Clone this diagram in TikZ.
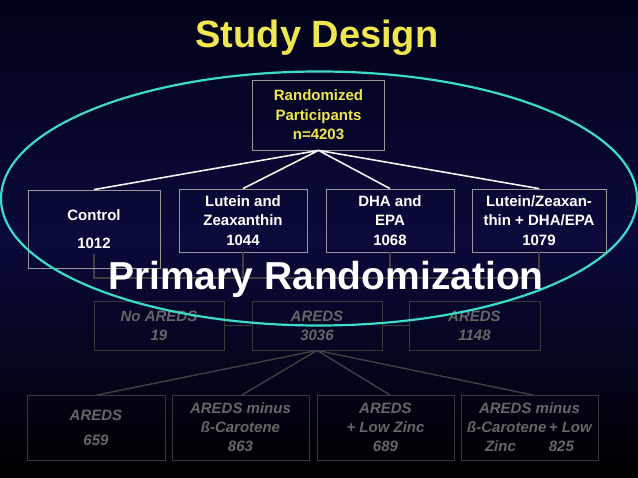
\documentclass[tikz,border=0pt]{standalone}
\usepackage{fontspec}
\setmainfont{Liberation Sans}
\begin{document}
\begin{tikzpicture}[x=1pt,y=-1pt,
  wb/.style={draw=gray!80,line width=0.8pt,text=white,font=\bfseries\fontsize{15}{19.5}\selectfont,align=center,inner sep=0pt},
  gb/.style={draw=gray!45!black,line width=0.8pt,text=gray!80!black,font=\bfseries\itshape\fontsize{15}{19}\selectfont,align=center,inner sep=0pt},
  wl/.style={white!90!gray,line width=1.6pt},
  gl/.style={gray!50!black,line width=1.4pt}]
\definecolor{ttl}{RGB}{240,230,80}
\definecolor{turq}{RGB}{60,220,200}
\definecolor{bgtop}{RGB}{2,2,25}
\definecolor{bgmid}{RGB}{10,10,60}
\fill[top color=bgtop,bottom color=bgmid] (0,0) rectangle (638,240);
\fill[top color=bgmid,bottom color=black] (0,240) rectangle (638,478);
\useasboundingbox (0,0) rectangle (638,478);
\node[font=\bfseries\fontsize{38}{44}\selectfont,text=ttl] (title) at (317,38) {Study Design};
% gray structure
\coordinate (c1) at (94,254); \coordinate (c1b) at (94,278);
\coordinate (c4b) at (539,278);
\draw[gl] (c1) -- (c1b) -- (c4b);
\node[gb,minimum width=130,minimum height=49] (na) at (159,325.5) {No AREDS\\19};
\node[gb,minimum width=130,minimum height=49] (ar) at (317,325.5) {AREDS\\3036};
\node[gb,minimum width=131,minimum height=49] (ar2) at (474.5,325.5) {AREDS\\1148};
\draw[gl] (na.east) -- (ar.west) (ar.east) -- (ar2.west);
\node[gb,minimum width=138,minimum height=65] (b1) at (96,427.5) {AREDS\\[6pt]659};
\node[gb,minimum width=137,minimum height=65] (b2) at (240.5,427.5) {AREDS minus\\ß-Carotene\\863};
\node[gb,minimum width=137,minimum height=65] (b3) at (385.5,427.5) {AREDS\\+ Low Zinc\\689};
\node[gb,minimum width=137,minimum height=65] (b4) at (529.5,427.5) {AREDS minus\\ß-Carotene\,+ Low\\Zinc\hspace{2.2em}825};
\coordinate (f) at (ar.south);
\draw[gl] (f) -- (97,395) (f) -- (242,395) (f) -- (390,395) (f) -- (533,395);
% white structure
\node[wb,minimum width=132,minimum height=70,text=ttl] (top) at (318.5,115) {Randomized\\Participants\\n=4203};
\node[wb,minimum width=132,minimum height=78] (g1) at (94,229) {Control\\[8pt]1012};
\node[wb,minimum width=128,minimum height=63] (g2) at (243,220.5) {Lutein and\\Zeaxanthin\\1044};
\node[wb,minimum width=128,minimum height=63] (g3) at (390,220.5) {DHA and\\EPA\\1068};
\node[wb,minimum width=134,minimum height=63] (g4) at (539,220.5) {Lutein/Zeaxan-\\thin + DHA/EPA\\1079};
\draw[gl] (g2.south) -- (243,278) (g3.south) -- (390,278) (g4.south) -- (c4b);
\draw[wl] (top.south) -- (g1.north) (top.south) -- (g2.north) (top.south) -- (g3.north) (top.south) -- (g4.north);
\draw[turq,line width=2.2pt] (319,198.5) ellipse [x radius=318,y radius=127];
\node[font=\bfseries\fontsize{39}{46}\selectfont,text=white] (pr) at (326,279) {Primary Randomization};
\end{tikzpicture}
\end{document}
